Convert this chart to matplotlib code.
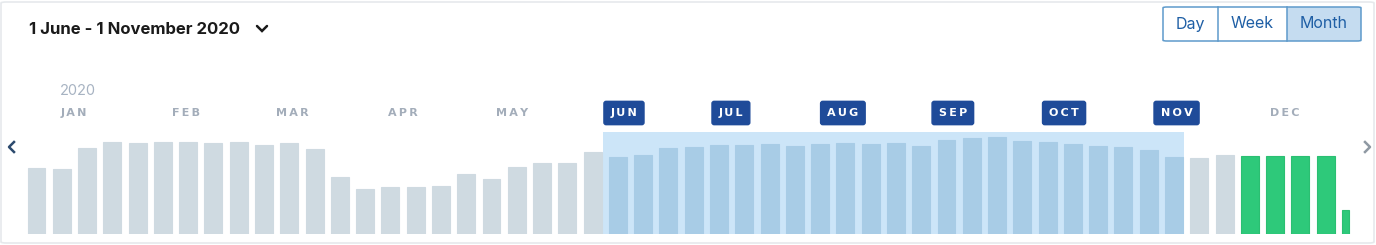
import matplotlib
matplotlib.use("Agg")
import matplotlib.pyplot as plt
from matplotlib.patches import FancyBboxPatch
from matplotlib.lines import Line2D

# weekly values for 2020 (53 weeks, last one partial)
values = [66, 65, 86, 92, 91, 92, 92, 91, 92, 89, 91, 85, 57, 45, 47, 47, 48,
          60, 55, 67, 71, 71, 82, 77, 79, 86, 87, 89, 89, 90, 88, 90, 91, 90,
          91, 88, 94, 96, 97, 93, 92, 90, 88, 87, 84, 77, 76, 79, 78, 78, 78,
          78, 24]
# 0 = past, 1 = selected range, 2 = current / in progress
status = [0] * 23 + [1] * 23 + [0] * 2 + [2] * 5
months = ['JAN', 'FEB', 'MAR', 'APR', 'MAY', 'JUN', 'JUL', 'AUG', 'SEP',
          'OCT', 'NOV', 'DEC']
month_pos = [1.48, 5.91, 10.1, 14.5, 18.8, 23.24, 27.47, 31.9, 36.25, 40.65,
             45.1, 49.39]
selected_months = ['JUN', 'JUL', 'AUG', 'SEP', 'OCT', 'NOV']
sel_start, sel_end = 22.42, 45.40
title = '1 June - 1 November 2020'
year = '2020'
buttons = ['Day', 'Week', 'Month']

W, H = 1376, 245
fig = plt.figure(figsize=(W / 100, H / 100), dpi=100)
fig.patch.set_facecolor('white')

def fx(px):
    return px / W

def fy(py):
    return 1 - py / H

# frame around the widget
fig.patches.append(FancyBboxPatch((fx(1), fy(243)), fx(1373), 241 / H,
                                  boxstyle='round,pad=0,rounding_size=0.004',
                                  transform=fig.transFigure, fill=False,
                                  edgecolor='#e6e9ec', linewidth=1.2))

ax = fig.add_axes([0, 11 / H, 1, 104 / H])
ax.set_xlim(-1.444, 52.99)
ax.set_ylim(0, 104)
ax.axis('off')

ax.fill_between([sel_start, sel_end], 0, 102, color='#cce5f8', linewidth=0,
                zorder=1)

face = {0: '#cfdae1', 1: '#a8cce6', 2: '#2ec97a'}
edge = {0: '#cfdae1', 1: '#a8cce6', 2: '#2bbf72'}
bw = 0.71
for i, v in enumerate(values):
    w = bw if i < len(values) - 1 else 0.27
    ax.bar(i - bw / 2, v, width=w, align='edge', color=face[status[i]],
           edgecolor=edge[status[i]], linewidth=0.8, zorder=2)

lab_font = ['DejaVu Sans']
for m, p in zip(months, month_pos):
    txt = '\u2009'.join(m)
    if m in selected_months:
        ax.text(p, 121, txt, ha='center', va='center', fontsize=8,
                fontweight='bold', color='white', family=lab_font,
                clip_on=False,
                bbox=dict(boxstyle='round,pad=0.6,rounding_size=0.2',
                          facecolor='#1f4b99', edgecolor='#1f4b99'))
    else:
        ax.text(p, 121, txt, ha='center', va='center', fontsize=8,
                fontweight='bold', color='#a3adba', family=lab_font,
                clip_on=False)

ax.text(0.93, 143, year, ha='left', va='center', fontsize=10.5,
        color='#a7b3c2', family=['Inter', 'DejaVu Sans'], clip_on=False)

# title and dropdown chevron
fig.text(fx(29), fy(29), title, ha='left', va='center', fontsize=12,
         fontweight='bold', color='#1a1a1a', family=['Inter', 'DejaVu Sans'])
fig.lines.append(Line2D([fx(257), fx(262), fx(267)], [fy(26), fy(31), fy(26)],
                        transform=fig.transFigure, color='#1a1a1a', lw=1.8,
                        solid_capstyle='round', solid_joinstyle='miter'))

# navigation arrows
fig.lines.append(Line2D([fx(14), fx(9), fx(14)], [fy(142), fy(147), fy(152)],
                        transform=fig.transFigure, color='#2d4a6e', lw=1.8))
fig.lines.append(Line2D([fx(1365), fx(1370), fx(1365)],
                        [fy(142), fy(147), fy(152)],
                        transform=fig.transFigure, color='#8f99a3', lw=1.8))

# Day / Week / Month toggle
edges = [1163, 1218, 1287, 1361]
fig.patches.append(FancyBboxPatch((fx(1287), fy(41)), fx(74), 34 / H,
                                  boxstyle='round,pad=0,rounding_size=0.003',
                                  transform=fig.transFigure,
                                  facecolor='#c5dcf0', edgecolor='none'))
fig.patches.append(FancyBboxPatch((fx(1163), fy(41)), fx(198), 34 / H,
                                  boxstyle='round,pad=0,rounding_size=0.003',
                                  transform=fig.transFigure, fill=False,
                                  edgecolor='#5e9acb', linewidth=1.1))
for xe in edges[1:3]:
    fig.lines.append(Line2D([fx(xe), fx(xe)], [fy(7), fy(41)],
                            transform=fig.transFigure, color='#5e9acb',
                            lw=1.1))
for b, l, r in zip(buttons, edges[:-1], edges[1:]):
    fig.text(fx((l + r) / 2), fy(24), b, ha='center', va='center',
             fontsize=11.5, color='#1f5fa5', family=['Inter', 'DejaVu Sans'])

fig.savefig('out.png', dpi=100, facecolor='white')
